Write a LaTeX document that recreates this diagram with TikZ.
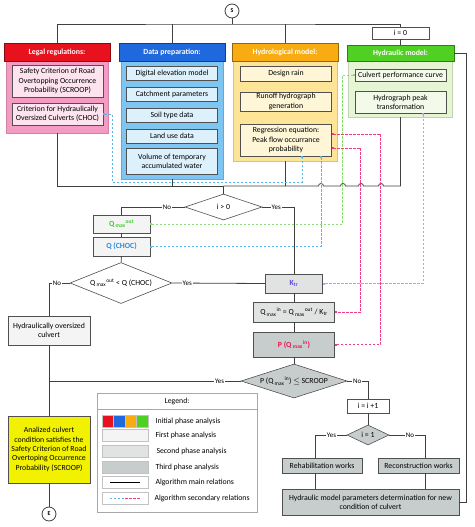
\documentclass[tikz,border=0pt]{standalone}
\usepackage{fontspec}
\setmainfont{Carlito}
\usepackage{amsmath}
\usetikzlibrary{arrows.meta, shapes.geometric}

\definecolor{legalred}{HTML}{E8111E}
\definecolor{legalpan}{HTML}{F39BC3}
\definecolor{legalin}{HTML}{FCE3EE}
\definecolor{datablue}{HTML}{1F68DD}
\definecolor{datapan}{HTML}{7EC5F1}
\definecolor{datain}{HTML}{DDF1FC}
\definecolor{hydroorange}{HTML}{F8AC12}
\definecolor{hydropan}{HTML}{FDE497}
\definecolor{hydroin}{HTML}{FEF6D6}
\definecolor{hydragreen}{HTML}{4FD022}
\definecolor{hydrapan}{HTML}{E6F5D3}
\definecolor{hydrain}{HTML}{F4FAEA}
\definecolor{okyellow}{HTML}{F2F200}
\definecolor{firstgrey}{HTML}{F4F4F4}
\definecolor{secgrey}{HTML}{E0E3E2}
\definecolor{thirdgrey}{HTML}{C7CDCC}
\definecolor{linegrey}{HTML}{404040}
\definecolor{boxgrey}{HTML}{505050}
\definecolor{leggrey}{HTML}{A8A8A8}
\definecolor{sblue}{HTML}{5BB6E8}
\definecolor{sgreen}{HTML}{8EDC78}
\definecolor{spink}{HTML}{EE3F82}
\definecolor{spurple}{HTML}{C39CF0}
\definecolor{qgreen}{HTML}{3CCB2C}
\definecolor{qblue}{HTML}{2E8BE0}
\definecolor{kpurple}{HTML}{5A48D8}
\definecolor{pred}{HTML}{E8174F}

\newcommand{\qflow}[1]{$\text{Q}_{\,\text{max}}{}^{\text{#1}}$}

\begin{document}
\begin{tikzpicture}[
    x=1pt, y=-1pt,
    font=\fontsize{7.8}{9.3}\selectfont,
    head/.style={draw=#1!60!black, fill=#1, text=white, inner sep=0pt,
                 font=\fontsize{7.8}{9.3}\selectfont\bfseries,
                 minimum width=106pt, minimum height=18pt},
    panel/.style={draw=#1!85!black, line width=0.4pt, fill=#1, inner sep=0pt},
    item/.style={draw=boxgrey, line width=0.6pt, fill=#1, align=center,
                 inner sep=1pt, minimum width=91pt},
    phase/.style={draw=boxgrey, line width=0.6pt, fill=#1, align=center, inner sep=1pt},
    dec/.style={diamond, draw=boxgrey, line width=0.6pt, fill=#1, inner sep=0pt},
    term/.style={circle, draw=linegrey, line width=0.8pt, fill=white, inner sep=0pt,
                 minimum size=14pt, font=\fontsize{6}{7}\selectfont\bfseries},
    main/.style={draw=linegrey, line width=0.8pt},
    sec/.style={line width=0.7pt, dash pattern=on 2.5pt off 1.5pt,
                {Square[length=1.6pt, width=1.6pt]}-{Square[length=1.6pt, width=1.6pt]}},
    lbl/.style={fill=white, inner sep=0.8pt, font=\fontsize{7}{8}\selectfont},
    swatch/.style={draw=leggrey!70, line width=0.4pt, fill=#1, inner sep=0pt,
                   minimum width=46pt, minimum height=12pt},
]
\useasboundingbox (0,0) rectangle (474,527);

% start, i = 0
\node[term] (start) at (232,11) {S};
\coordinate (top) at (232,24);
\node[phase=white, minimum width=57pt, minimum height=12pt] (i0) at (400.5,33) {i = 0};

% input panels and headers
\node[panel=legalpan, minimum width=102pt, minimum height=72pt] (pLegal) at (57,97) {};
\node[panel=datapan, minimum width=102pt, minimum height=118pt] (pData) at (172,120) {};
\node[panel=hydropan, minimum width=104pt, minimum height=100pt] (pHydro) at (285,111) {};
\node[panel=hydrapan, minimum width=104pt, minimum height=56pt] (pHydra) at (400.5,89) {};
\node[head=legalred] (hLegal) at (57,52) {Legal regulations:};
\node[head=datablue] (hData) at (172,52) {Data preparation:};
\node[head=hydroorange] (hHydro) at (285,52) {Hydrological model:};
\node[head=hydragreen, minimum width=107pt, minimum height=16pt] (hHydra) at (400.5,53) {Hydraulic model:};

\node[item=legalin, minimum height=32pt] (scroop) at (57.5,81)
    {Safety Criterion of Road\\Overtopping Occurrence\\Probability (SCROOP)};
\node[item=legalin, minimum height=22pt] (choc) at (57.5,114)
    {Criterion for Hydraulically\\Oversized Culverts (CHOC)};

\node[item=datain, minimum height=14pt] (dem) at (172,73) {Digital elevation model};
\node[item=datain, minimum height=14pt] (catch) at (172,94) {Catchment parameters};
\node[item=datain, minimum height=14pt] (soil) at (172,115) {Soil type data};
\node[item=datain, minimum height=14pt] (land) at (172,136) {Land use data};
\node[item=datain, minimum height=26pt] (volume) at (172,161)
    {Volume of temporary\\accumulated water};

\node[item=hydroin, minimum height=15pt] (rain) at (286,73.5) {Design rain};
\node[item=hydroin, minimum height=19pt] (runoff) at (286,101.5)
    {Runoff hydrograph\\generation};
\node[item=hydroin, minimum height=32pt] (regr) at (286,140)
    {Regression equation:\\Peak flow occurrance\\probability};

\node[item=hydrain, minimum height=12pt] (curve) at (400.5,75) {Culvert performance curve};
\node[item=hydrain, minimum height=22pt] (peak) at (400.5,102)
    {Hydrograph peak\\transformation};

% algorithm
\coordinate (merge) at (223.5,186);
\node[dec=white, minimum width=77pt, minimum height=26pt, aspect=3] (d1) at (223.5,207) {i > 0};
\node[phase=firstgrey, minimum width=57pt, minimum height=18pt,
      text=qgreen, font=\fontsize{7.8}{9.3}\selectfont\bfseries] (qout) at (121.5,224) {\qflow{out}};
\node[phase=firstgrey, minimum width=57pt, minimum height=19pt,
      text=qblue, font=\fontsize{7.8}{9.3}\selectfont\bfseries] (qchoc) at (121.5,246.5) {Q (CHOC)};
\node[dec=white, minimum width=102pt, minimum height=41pt, aspect=2.5] (d2) at (121,283)
    {\qflow{out} < Q (CHOC)};
\node[phase=firstgrey, minimum width=82pt, minimum height=29pt] (over) at (49,330.5)
    {Hydraulically oversized\\culvert};
\node[phase=okyellow, minimum width=82pt, minimum height=67pt] (ok) at (49,449.5)
    {Analized culvert\\condition satisfies the\\Safety Criterion of Road\\Overtoping Occurrence\\Probability (SCROOP)};
\node[term] (end) at (49,514) {E};

\node[phase=secgrey, minimum width=57pt, minimum height=19pt,
      text=kpurple, font=\fontsize{7.8}{9.3}\selectfont\bfseries] (ktr) at (294,283.5) {K$_{\text{tr}}$};
\node[phase=secgrey, minimum width=81pt, minimum height=20pt] (qin) at (294,312)
    {\qflow{in} = \qflow{out} / K$_{\text{tr}}$};
\node[phase=thirdgrey, minimum width=81pt, minimum height=25pt,
      text=pred, font=\fontsize{7.8}{9.3}\selectfont\bfseries] (pq) at (294,344.5) {P (\qflow{in})};
\node[dec=thirdgrey, minimum width=106pt, minimum height=34pt, aspect=3.1] (d3) at (294,381)
    {P (\qflow{in}) $\leq$ SCROOP};

\node[phase=white, minimum width=42pt, minimum height=14pt] (inc) at (368,406) {i = i +1};
\node[dec=thirdgrey, minimum width=42pt, minimum height=20pt, aspect=2.1] (d4) at (368,435) {i = 1};
\node[phase=thirdgrey, minimum width=80pt, minimum height=15pt] (rehab) at (322,465.5) {Rehabilitation works};
\node[phase=thirdgrey, minimum width=81pt, minimum height=15pt] (recon) at (418.5,465.5) {Reconstruction works};
\node[phase=thirdgrey, minimum width=177pt, minimum height=26pt] (params) at (370.5,502)
    {Hydraulic model parameters determination for new\\condition of culvert};

% main relations
\draw[main] (start) -- (top);
\draw[main] (hLegal.north) |- (top) -| (i0.north);
\draw[main] (hData.north) -- (hData.north |- top);
\draw[main] (hHydro.north) -- (hHydro.north |- top);
\draw[main] (i0) -- (hHydra);

\draw[main] (pLegal.south) |- (merge);
\draw[main] (pData.south) -- (pData.south |- merge);
\draw[main] (pHydro.south) -- (pHydro.south |- merge);
\draw[main] (merge) -- (318.5,186) arc[start angle=180, end angle=0, radius=2.5pt]
    -- (340.5,186) arc[start angle=180, end angle=0, radius=2.5pt]
    -- (358.5,186) arc[start angle=180, end angle=0, radius=2.5pt]
    -- (378.5,186) arc[start angle=180, end angle=0, radius=2.5pt]
    -- (pHydra.south |- merge) -- (pHydra.south);
\draw[main] (merge) -- (d1);

\draw[main] (d1.west) -| node[lbl, pos=0.14] {No} (qout.north);
\draw[main] (d1.east) -| node[lbl, pos=0.22] {Yes} (ktr.north);
\draw[main] (qout) -- (qchoc);
\draw[main] (qchoc) -- (d2);
\draw[main] (d2.west) -| node[lbl, pos=0.31] {No} (over.north);
\draw[main] (d2.east) -- node[lbl, pos=0.16] {Yes} (ktr.west);
\draw[main] (ktr) -- (qin);
\draw[main] (qin) -- (pq);
\draw[main] (pq) -- (d3);
\draw[main] (over) -- (ok);
\draw[main] (d3.west) -- node[lbl, pos=0.11] {Yes} (d3.west -| over);
\draw[main] (ok) -- (end);
\draw[main] (d3.east) -| node[lbl, pos=0.24] {No} (inc.north);
\draw[main] (inc) -- (d4);
\draw[main] (d4.west) -| node[lbl, pos=0.24] {Yes} ([xshift=-7pt]rehab.north);
\draw[main] (d4.east) -| node[lbl, pos=0.29] {No} ([xshift=6.5pt]recon.north);
\draw[main] ([xshift=-7pt]rehab.south) -- ([xshift=-7pt]rehab.south |- params.north);
\draw[main] ([xshift=6.5pt]recon.south) -- ([xshift=6.5pt]recon.south |- params.north);
\draw[main] (params.east) -- ++(7,0) |- (hHydra.east);

% secondary relations
\coordinate (bend1) at (112,182);
\draw[sec, sblue] (choc.east) -| (bend1) -| ([xshift=16pt]regr.south);
\draw[sec, sblue] (qchoc.east) -| ([xshift=35pt]regr.south);
\draw[sec, sgreen] (curve.west) -- ++(-12,0) |- (qout.east);
\draw[sec, spink] ([yshift=6pt]regr.east) -- ++(49,0) |- (pq.east);
\draw[sec, spink] ([yshift=-8pt]regr.east) -- ++(29,0) |- (qin.east);
\draw[sec, spurple] ([xshift=22.5pt]peak.south) |- (ktr.east);

% legend
\node[draw=leggrey, line width=0.5pt, fill=white, minimum width=160pt, minimum height=119pt] (legend) at (177,452.5) {};
\node (legtitle) at (177,401) {Legend:};
\coordinate (legsep) at (177,409);
\draw[leggrey, line width=0.5pt] (legend.west |- legsep) -- (legend.east |- legsep);

\node[swatch=legalred, minimum width=11.5pt] (sw1a) at (107.75,421) {};
\node[swatch=datablue, minimum width=11.5pt] (sw1b) at (119.25,421) {};
\node[swatch=hydroorange, minimum width=11.5pt] (sw1c) at (130.75,421) {};
\node[swatch=hydragreen, minimum width=11.5pt] (sw1d) at (142.25,421) {};
\node[swatch=firstgrey] (sw2) at (125,435) {};
\node[swatch=secgrey] (sw3) at (125,451) {};
\node[swatch=thirdgrey] (sw4) at (125,467) {};
\node[swatch=white] (sw5) at (125,482.5) {};
\node[swatch=white] (sw6) at (125,498) {};
\draw[line width=1pt, black] ([xshift=8pt]sw5.west) -- ([xshift=-8pt]sw5.east);
\draw[sblue, line width=0.7pt, dash pattern=on 2.5pt off 1.5pt] ([xshift=8pt]sw6.west) -- (sw6.center);
\draw[spink, line width=0.7pt, dash pattern=on 2.5pt off 1.5pt] (sw6.center) -- ([xshift=-8pt]sw6.east);

\node[anchor=west] (lg1) at (152,421) {Initial phase analysis};
\node[anchor=west] (lg2) at (152,435) {First phase analysis};
\node[anchor=west] (lg3) at (153,451) {Second phase analysis};
\node[anchor=west] (lg4) at (152,467) {Third phase analysis};
\node[anchor=west] (lg5) at (152,482.5) {Algorithm main relations};
\node[anchor=west] (lg6) at (151,498) {Algorithm secondary relations};

\end{tikzpicture}
\end{document}
